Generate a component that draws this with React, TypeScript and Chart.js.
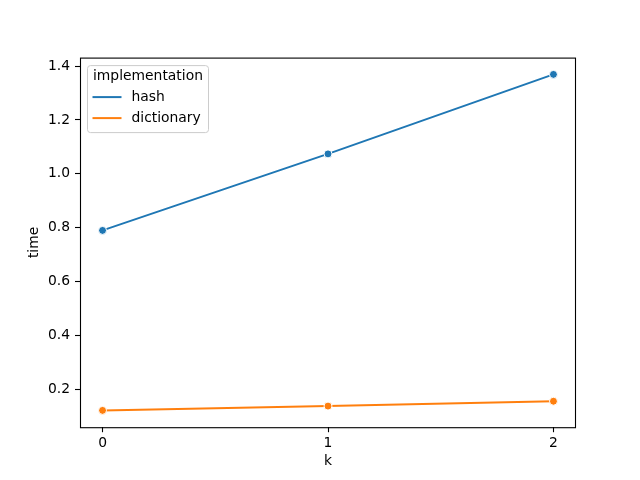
import { useEffect, useRef } from 'react';
import { Chart, registerables } from 'chart.js';

Chart.register(...registerables);

// values
const kValues = [0, 1, 2];
const hashTimes = [0.79, 1.074, 1.369];
const dictionaryTimes = [0.122, 0.138, 0.156];
const seriesLabels = ['hash', 'dictionary'];
const seriesColors = ['#1f77b4', '#ff7f0e'];
const yTickValues = [0.2, 0.4, 0.6, 0.8, 1.0, 1.2, 1.4];
const legendTitle = 'implementation';

const FONT = 'DejaVu Sans';
const FS = 13.89;

// matplotlib style frame around the plot area
const framePlugin = {
    id: 'frame',
    afterDatasetsDraw(chart: any) {
        const { ctx, chartArea } = chart;
        ctx.save();
        ctx.strokeStyle = '#000';
        ctx.lineWidth = 1.1;
        ctx.strokeRect(chartArea.left + 0.5, chartArea.top + 0.5, chartArea.right - chartArea.left - 1, chartArea.bottom - chartArea.top);
        ctx.restore();
    },
};

// legend box in the upper-left corner, with a title like seaborn
const legendPlugin = {
    id: 'innerLegend',
    afterDraw(chart: any) {
        const { ctx, chartArea } = chart;
        const x0 = chartArea.left + 7;
        const y0 = chartArea.top + 7.5;
        const w = 121;
        const h = 67;
        ctx.save();
        ctx.beginPath();
        ctx.roundRect(x0 + 0.5, y0 + 0.5, w, h, 3);
        ctx.fillStyle = 'rgba(255,255,255,0.8)';
        ctx.fill();
        ctx.strokeStyle = '#cccccc';
        ctx.lineWidth = 1;
        ctx.stroke();

        ctx.font = `${FS}px '${FONT}'`;
        ctx.fillStyle = '#000';
        ctx.textBaseline = 'middle';
        ctx.textAlign = 'left';
        ctx.fillText(legendTitle, x0 + 6, y0 + 11);

        chart.data.datasets.forEach((ds: any, i: number) => {
            const y = y0 + 32 + i * 21;
            ctx.strokeStyle = ds.borderColor;
            ctx.lineWidth = 2;
            ctx.beginPath();
            ctx.moveTo(x0 + 5.5, y);
            ctx.lineTo(x0 + 34.5, y);
            ctx.stroke();
            ctx.fillStyle = '#000';
            ctx.fillText(ds.label, x0 + 44.5, y);
        });
        ctx.restore();
    },
};

export default function App() {
    const canvasRef = useRef<HTMLCanvasElement | null>(null);
    const chartRef = useRef<Chart | null>(null);

    useEffect(() => {
        document.body.style.margin = '0';
        if (!canvasRef.current) return;
        const ctx = canvasRef.current.getContext('2d');
        if (!ctx) return;

        Chart.defaults.font.family = FONT;
        Chart.defaults.font.size = FS;
        Chart.defaults.color = '#000';

        const allTimes = [...hashTimes, ...dictionaryTimes];
        const lo = Math.min(...allTimes);
        const hi = Math.max(...allTimes);
        const pad = (hi - lo) * 0.05;
        const xPad = (kValues[kValues.length - 1] - kValues[0]) * 0.05;

        const series = [hashTimes, dictionaryTimes];

        chartRef.current = new Chart(ctx, {
            type: 'line',
            data: {
                datasets: series.map((vals, i) => ({
                    label: seriesLabels[i],
                    data: vals.map((v, j) => ({ x: kValues[j], y: v })),
                    borderColor: seriesColors[i],
                    backgroundColor: seriesColors[i],
                    borderWidth: 2,
                    pointRadius: 4,
                    pointBorderWidth: 1,
                    pointBorderColor: '#ffffff',
                    pointBackgroundColor: seriesColors[i],
                    tension: 0,
                })),
            },
            options: {
                responsive: false,
                animation: false,
                layout: { padding: { top: 57.6, right: 64, left: 0, bottom: 0 } },
                plugins: {
                    legend: { display: false },
                    tooltip: { enabled: false },
                },
                scales: {
                    x: {
                        type: 'linear',
                        min: kValues[0] - xPad,
                        max: kValues[kValues.length - 1] + xPad,
                        afterBuildTicks: (scale: any) => {
                            scale.ticks = kValues.map((v) => ({ value: v }));
                        },
                        afterFit: (scale: any) => {
                            scale.height = 52.8;
                        },
                        grid: { drawOnChartArea: false, tickLength: 5, color: '#000', tickWidth: 1.1 },
                        border: { display: false },
                        ticks: { padding: 2.5, callback: (v: any) => String(v) },
                        title: { display: true, text: 'k', padding: { top: 0, bottom: 10.2 } },
                    },
                    y: {
                        type: 'linear',
                        min: lo - pad,
                        max: hi + pad,
                        afterBuildTicks: (scale: any) => {
                            scale.ticks = yTickValues.map((v) => ({ value: v }));
                        },
                        afterFit: (scale: any) => {
                            scale.width = 80;
                        },
                        grid: { drawOnChartArea: false, tickLength: 5, color: '#000', tickWidth: 1.1 },
                        border: { display: false },
                        ticks: { padding: 5, callback: (v: any) => Number(v).toFixed(1) },
                        title: { display: true, text: 'time', padding: { top: 26.4, bottom: 0 } },
                    },
                },
            },
            plugins: [framePlugin, legendPlugin],
        });

        return () => {
            if (chartRef.current) {
                chartRef.current.destroy();
                chartRef.current = null;
            }
        };
    }, []);

    return (
        <div style={{ width: 640, height: 480, background: '#fff' }}>
            <canvas ref={canvasRef} width={640} height={480}></canvas>
        </div>
    );
}
